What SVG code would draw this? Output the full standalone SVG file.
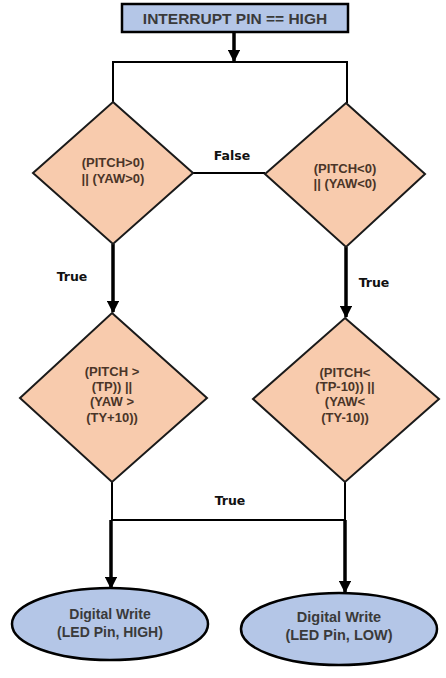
<svg xmlns="http://www.w3.org/2000/svg" width="446" height="678" viewBox="0 0 446 678">
<style>
.box{fill:#b4c6e7;stroke:#000;stroke-width:2.5}
.dia{fill:#f8cbad;stroke:#1a1a1a;stroke-width:2}
.ell{fill:#b4c6e7;stroke:#000;stroke-width:2.5}
.t{font-family:"Liberation Sans",Arial,sans-serif;font-weight:bold;fill:#3a3a3a;text-anchor:middle}
.d{font-family:"Liberation Sans",Arial,sans-serif;font-weight:bold;fill:#4a3528;text-anchor:middle;font-size:13px}
.lbl{font-family:"DejaVu Sans",sans-serif;font-weight:bold;fill:#111;text-anchor:middle;font-size:12.5px}
.ln{stroke:#000;stroke-width:2;fill:none}
.th{stroke:#000;stroke-width:3.5;fill:none}
</style>
<defs>
<marker id="ah" viewBox="0 0 10 10" refX="9" refY="5" markerWidth="3.6" markerHeight="3.6" orient="auto" markerUnits="strokeWidth">
<path d="M0,0 L10,5 L0,10 z" fill="#000"/>
</marker>
</defs>
<rect width="446" height="678" fill="#fff"/>
<g id="connectors">
<line class="th" x1="234" y1="33" x2="234" y2="61" marker-end="url(#ah)"/>
<polyline class="ln" points="113,102 113,62 347,62 347,103"/>
<line class="ln" x1="193" y1="173" x2="265" y2="173"/>
<line class="th" x1="113" y1="244" x2="113" y2="312" marker-end="url(#ah)"/>
<line class="th" x1="346" y1="247" x2="346" y2="317" marker-end="url(#ah)"/>
<polyline class="ln" points="112,482 112,520 345,520 345,482"/>
<line class="th" x1="111" y1="520" x2="111" y2="588" marker-end="url(#ah)"/>
<line class="th" x1="345" y1="520" x2="345" y2="592" marker-end="url(#ah)"/>
<text class="lbl" x="232" y="160">False</text>
<text class="lbl" x="72" y="281">True</text>
<text class="lbl" x="374" y="287">True</text>
<text class="lbl" x="230" y="505">True</text>
</g>
<g id="start">
<rect class="box" x="122" y="4" width="226" height="28"/>
<text class="t" x="235" y="24" font-size="15.5">INTERRUPT PIN == HIGH</text>
</g>
<g id="cond1">
<polygon class="dia" points="113,102 193,173 113,244 33,173"/>
<text class="d" x="113" y="167">(PITCH&gt;0)</text>
<text class="d" x="113" y="183">|| (YAW&gt;0)</text>
</g>
<g id="cond2">
<polygon class="dia" points="346,103 425,174 346,247 265,174"/>
<text class="d" x="345" y="173">(PITCH&lt;0)</text>
<text class="d" x="345" y="188">|| (YAW&lt;0)</text>
</g>
<g id="cond3">
<polygon class="dia" points="112,313 207,398 112,482 20,398"/>
<text class="d" x="112" y="376">(PITCH &gt;</text>
<text class="d" x="112" y="391">(TP)) ||</text>
<text class="d" x="112" y="406">(YAW &gt;</text>
<text class="d" x="112" y="422">(TY+10))</text>
</g>
<g id="cond4">
<polygon class="dia" points="345,318 439,399 345,482 253,399"/>
<text class="d" x="345" y="377">(PITCH&lt;</text>
<text class="d" x="345" y="391">(TP-10)) ||</text>
<text class="d" x="345" y="406">(YAW&lt;</text>
<text class="d" x="345" y="422">(TY-10))</text>
</g>
<g id="high">
<ellipse class="ell" cx="110" cy="624" rx="98" ry="36"/>
<text class="t" x="110" y="619" font-size="14">Digital Write</text>
<text class="t" x="110" y="637" font-size="14">(LED Pin, HIGH)</text>
</g>
<g id="low">
<ellipse class="ell" cx="339" cy="629" rx="98" ry="36"/>
<text class="t" x="339" y="622" font-size="14.5">Digital Write</text>
<text class="t" x="339" y="640" font-size="14.5">(LED Pin, LOW)</text>
</g>
</svg>
